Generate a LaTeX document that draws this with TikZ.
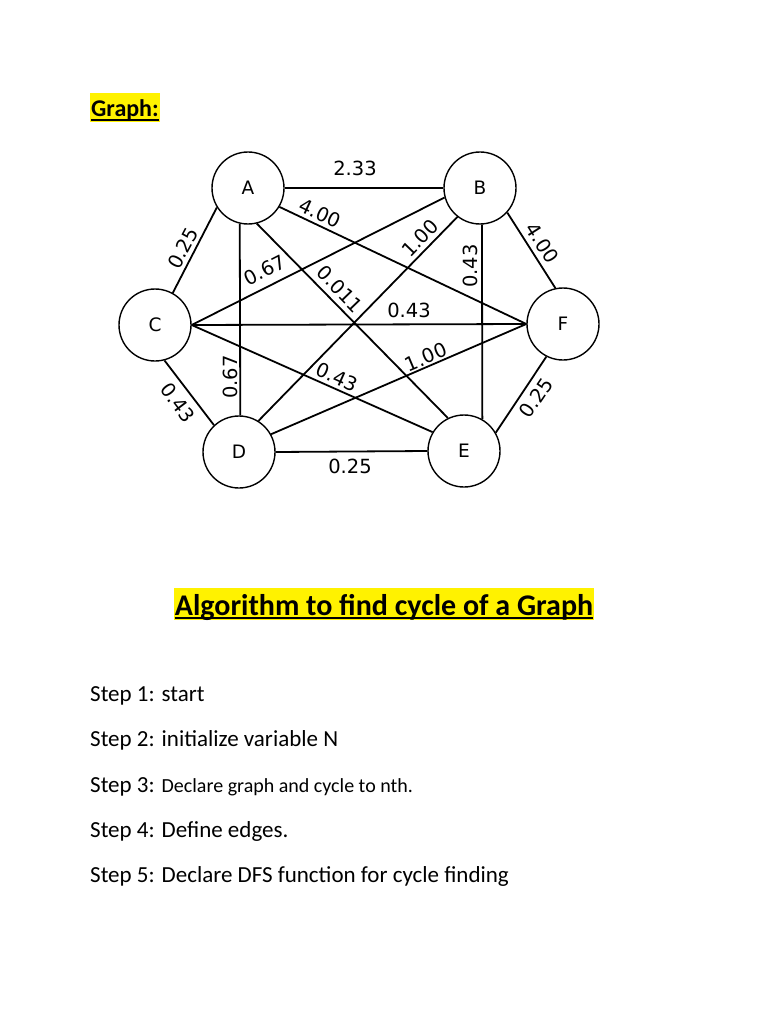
\documentclass[tikz,border=0pt]{standalone}
\usepackage{fontspec}
\setmainfont{Carlito}
\newfontfamily\dv{DejaVu Sans}
\usetikzlibrary{calc}
\begin{document}
\begin{tikzpicture}[x=1pt,y=-1pt,
  vtx/.style={circle,draw,line width=1.4pt,minimum size=72pt,inner sep=0pt,font=\dv\fontsize{18.5}{20}\selectfont},
  edge/.style={line width=1.8pt},
  wlab/.style={font=\dv\fontsize{19.5}{22}\selectfont,inner sep=0pt},
  hl/.style={fill=yellow,inner xsep=1pt,inner ysep=0pt},
  uline/.style={line width=1.6pt},
  steptxt/.style={anchor=base west,inner sep=0pt,font=\fontsize{23}{27}\selectfont}]
\useasboundingbox[fill=white] (0,0) rectangle (768,1024);

% headings
\node[hl,anchor=base west,text height=24pt,text depth=5pt,font=\bfseries\fontsize{24}{28}\selectfont] (g) at (90,117) {Graph:};
\draw[uline] ($(g.base west)+(1,3)$) -- ($(g.base east)+(-1,3)$);

\node[hl,anchor=base,text height=27pt,text depth=5pt,font=\bfseries\fontsize{30}{35}\selectfont] (t) at (384,615) {Algorithm to find cycle of a Graph};
\draw[uline,line width=1.8pt] ($(t.base west)+(1,3)$) -- ($(t.base east)+(-1,3)$);

% vertices
\node[vtx] (A) at (248,188) {A};
\node[vtx] (B) at (480,188) {B};
\node[vtx] (C) at (155,325) {C};
\node[vtx] (D) at (239,452) {D};
\node[vtx] (E) at (464,451) {E};
\node[vtx] (F) at (563,324) {F};

% edges
\draw[edge] (A.0) -- (B.180);
\draw[edge] (A.212) -- (C.61);
\draw[edge] (A.-103) -- (D.88);
\draw[edge] (A.-76) -- (E.116);
\draw[edge] (A.-31) -- (F.180);
\draw[edge] (B.195) -- (C.0);
\draw[edge] (B.232) -- (D.58);
\draw[edge] (B.-87) -- (E.60);
\draw[edge] (B.-42) -- (F.102);
\draw[edge] (C.-75) -- (D.133);
\draw[edge] (C.0) -- (E.149);
\draw[edge] (C.0) -- (F.180);
\draw[edge] (D.0) -- (E.180);
\draw[edge] (D.29) -- (F.180);
\draw[edge] (E.30) -- (F.243);

% weights
\node[wlab] (l1) at (355,168) {2.33};
\node[wlab,rotate=-25] (l2) at (320,213) {4.00};
\node[wlab,rotate=-46] (l3) at (340,289) {0.011};
\node[wlab,rotate=46] (l4) at (420,238) {1.00};
\node[wlab,rotate=90] (l5) at (470,266) {0.43};
\node[wlab,rotate=-57.5] (l6) at (542,243) {4.00};
\node[wlab,rotate=62] (l7) at (183,248) {0.25};
\node[wlab,rotate=27] (l8) at (265,270) {0.67};
\node[wlab] (l9) at (409,310) {0.43};
\node[wlab,rotate=90] (l10) at (230,377) {0.67};
\node[wlab,rotate=-53] (l11) at (178,403) {0.43};
\node[wlab,rotate=-24] (l12) at (337,377) {0.43};
\node[wlab,rotate=23] (l13) at (426,357) {1.00};
\node[wlab] (l14) at (350,466) {0.25};
\node[wlab,rotate=56] (l15) at (536,398) {0.25};

% steps
\node[steptxt] (s1) at (90,701) {Step 1: start};
\node[steptxt] (s2) at (90,746) {Step 2: initialize variable N};
\node[steptxt] (s3) at (90,792) {Step 3: {\fontsize{20}{24}\selectfont Declare graph and cycle to nth.}};
\node[steptxt] (s4) at (90,837) {Step 4: Define edges.};
\node[steptxt] (s5) at (90,882) {Step 5: Declare DFS function for cycle finding};
\end{tikzpicture}
\end{document}
